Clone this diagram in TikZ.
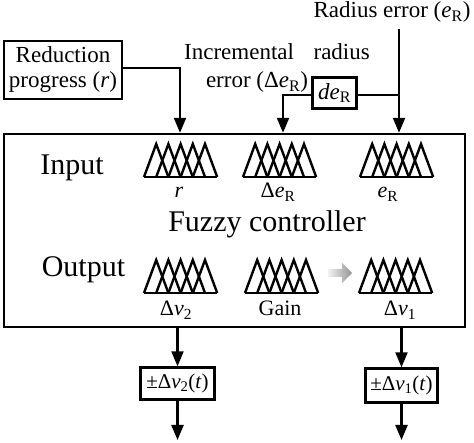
\documentclass[tikz,border=0pt]{standalone}
\usepackage{fontspec}
\setmainfont{Liberation Serif}
\usetikzlibrary{arrows.meta}
\newcommand{\mfset}[2]{%
  \foreach \k in {0,...,4}
    \draw[mfline] ({#1+12.2*\k},#2) -- ({#1+12.2*\k+12.2},{#2-33}) -- ({#1+12.2*\k+24.4},#2);
  \draw[mfline] (#1,#2) -- ({#1+73.2},#2);}
\newcommand{\eR}{\textit{e}\textsubscript{R}}
\tikzset{
  mfline/.style={line width=2.4pt},
  conn/.style={line width=2.2pt},
  arr/.style={line width=2.2pt,-{Triangle[length=15pt,width=12pt]}},
  boxed/.style={draw,line width=2.4pt,inner sep=0pt,align=center},
  txt/.style={font=\fontsize{23}{25}\selectfont},
  otxt/.style={font=\fontsize{21}{23}\selectfont},
  lbl/.style={font=\fontsize{22}{24}\selectfont,anchor=base},
  big/.style={font=\fontsize{30}{32}\selectfont,anchor=base},
}
\begin{document}
\begin{tikzpicture}[x=1pt,y=-1pt]
\useasboundingbox (0,0) rectangle (474,443);
% controller box
\node[boxed,minimum width=461pt,minimum height=193pt] (ctrl) at (234.5,230.5) {};
\node[big] (inp) at (72,175) {Input};
\node[big] (outp) at (83.5,277) {Output};
\node[big] (fuzzy) at (267,232) {Fuzzy controller};
% membership functions
\mfset{144}{177}\mfset{243}{177}\mfset{360}{177}
\mfset{144}{293}\mfset{245}{293}\mfset{359}{293}
\node[lbl] (lr) at (179,198) {\textit{r}};
\node[lbl] (lde) at (278,198) {Δ\eR};
\node[lbl] (le) at (388,198) {\eR};
\node[lbl] (lv2) at (176,316) {Δ\textit{ν}\textsubscript{2}};
\node[lbl] (lgain) at (280,316) {Gain};
\node[lbl] (lv1) at (400,316) {Δ\textit{ν}\textsubscript{1}};
\shade[left color=gray!10,right color=gray!85] (328,269) -- (342,269) -- (342,263) -- (352,273)
  -- (342,283) -- (342,277) -- (328,277) -- cycle;
% inputs
\node[boxed,txt,minimum width=118pt,minimum height=58pt] (red) at (63,70)
  {Reduction\\progress (\textit{r})};
\node[txt,anchor=base] (rerr) at (392,18) {Radius error (\eR)};
\node[txt,anchor=base] (incr1) at (277,60) {Incremental\hspace{0.6em} radius};
\node[txt,anchor=base] (incr2) at (257,88) {error (Δ\eR)};
\node[boxed,txt,minimum width=44pt,minimum height=31pt] (de) at (334.5,93) {\textit{d}\eR};
\coordinate (rx) at (180,0);
\coordinate (dx) at (283,0);
\coordinate (ex) at (399,0);
\coordinate (etop) at (399,29);
\coordinate (jn) at (399,95);
\draw[arr] (red.east |- 0,68) -| (rx |- ctrl.north);
\draw[arr] (etop) -- (ex |- ctrl.north);
\draw[conn] (jn) -- (jn -| de.east);
\draw[arr] (de.west |- jn) -| (dx |- ctrl.north);
% outputs
\node[boxed,otxt,minimum width=74pt,minimum height=32pt] (out2) at (177.5,383.5) {±Δ\textit{ν}\textsubscript{2}(\textit{t})};
\node[boxed,otxt,minimum width=72pt,minimum height=34pt] (out1) at (401.5,385.5) {±Δ\textit{ν}\textsubscript{1}(\textit{t})};
\coordinate (o2end) at (177.5,440);
\coordinate (o1end) at (401.5,440);
\draw[arr] (ctrl.south -| out2) -- (out2.north);
\draw[arr] (out2.south) -- (o2end);
\draw[arr] (ctrl.south -| out1) -- (out1.north);
\draw[arr] (out1.south) -- (o1end);
\end{tikzpicture}
\end{document}
